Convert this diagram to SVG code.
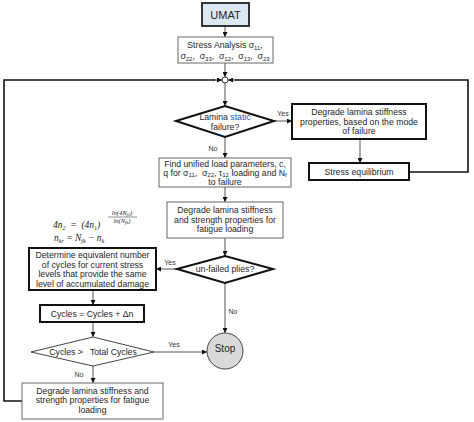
<svg xmlns="http://www.w3.org/2000/svg" width="474" height="422" viewBox="0 0 474 422">
<defs>
<marker id="ah" viewBox="0 0 10 10" refX="10" refY="5" markerWidth="5" markerHeight="5" orient="auto" markerUnits="userSpaceOnUse"><path d="M0,0 L10,5 L0,10 z" fill="#111"/></marker>
<style>
.t{font-family:"Liberation Sans",Arial,sans-serif;font-size:8.7px;fill:#1e1e28;text-anchor:middle}
.lb{font-family:"Liberation Sans",Arial,sans-serif;font-size:7px;fill:#333;text-anchor:middle}
.thick{fill:#fff;stroke:#111;stroke-width:2}
.thin{fill:#fff;stroke:#666;stroke-width:1}
.c{fill:none;stroke:#555;stroke-width:1;marker-end:url(#ah)}
.loop{fill:none;stroke:#111;stroke-width:1.6}
.m{font-family:"Liberation Serif","Times New Roman",serif;font-style:italic;font-size:9.5px;fill:#222}
.s{font-size:6px}
</style>
</defs>
<rect width="474" height="422" fill="#fff"/>

<g id="connectors">
<line class="c" x1="225" y1="26" x2="225" y2="37"/>
<line class="c" x1="225" y1="63" x2="225" y2="77"/>
<line class="c" x1="225" y1="83" x2="225" y2="106"/>
<polyline class="loop" points="22,401 4,401 4,80 215,80"/>
<line class="c" x1="214" y1="80" x2="222" y2="80" style="stroke:#111"/>
<polyline class="loop" points="409,172 468,172 468,80 235,80"/>
<line class="c" x1="236" y1="80" x2="228" y2="80" style="stroke:#111"/>
<circle cx="225" cy="80" r="3" fill="#fff" stroke="#333" stroke-width="1"/>
<line class="c" x1="274" y1="121" x2="292" y2="121"/>
<text class="lb" x="283" y="116">Yes</text>
<line class="c" x1="360" y1="139" x2="360" y2="163"/>
<line class="c" x1="225" y1="137" x2="225" y2="158"/>
<text class="lb" x="213" y="151">No</text>
<line class="c" x1="225" y1="187" x2="225" y2="202"/>
<line class="c" x1="225" y1="238" x2="225" y2="256"/>
<line class="c" x1="177" y1="269" x2="156" y2="269"/>
<text class="lb" x="170" y="265">Yes</text>
<line class="c" x1="225" y1="283" x2="225" y2="333"/>
<text class="lb" x="233" y="314">No</text>
<line class="c" x1="93" y1="290" x2="93" y2="305"/>
<line class="c" x1="93" y1="322" x2="93" y2="337"/>
<line class="c" x1="154" y1="352" x2="207" y2="352"/>
<text class="lb" x="174" y="347">Yes</text>
<line class="c" x1="93" y1="366" x2="93" y2="383"/>
<text class="lb" x="79" y="377">No</text>
</g>

<g id="umat">
<rect x="202" y="3" width="47" height="23" fill="#dbe8f1" stroke="#222" stroke-width="1.8"/>
<text class="t" x="225.5" y="19" style="font-size:11px">UMAT</text>
</g>

<g id="stress-analysis">
<rect class="thin" x="178" y="37" width="95" height="26"/>
<text class="t" x="225" y="48">Stress Analysis σ<tspan class="s" dy="1.5">11</tspan><tspan dy="-1.5">,</tspan></text>
<text class="t" x="225" y="59">σ<tspan class="s" dy="1.5">22</tspan><tspan dy="-1.5">,&#160; σ</tspan><tspan class="s" dy="1.5">33</tspan><tspan dy="-1.5">,&#160; σ</tspan><tspan class="s" dy="1.5">12</tspan><tspan dy="-1.5">,&#160; σ</tspan><tspan class="s" dy="1.5">13</tspan><tspan dy="-1.5">,&#160; σ</tspan><tspan class="s" dy="1.5">23</tspan></text>
</g>

<g id="lamina-static">
<polygon class="thick" points="176,121 225,106 274,121 225,137"/>
<text class="t" x="225" y="120">Lamina <tspan fill="#2d4fc4">static</tspan></text>
<text class="t" x="225" y="130">failure?</text>
</g>

<g id="degrade-static">
<rect class="thick" x="292" y="104" width="134" height="35"/>
<text class="t" x="359" y="115">Degrade lamina stiffness</text>
<text class="t" x="359" y="124.5">properties, based on the mode</text>
<text class="t" x="359" y="134">of failure</text>
</g>

<g id="stress-equilibrium">
<rect class="thick" x="309" y="163" width="100" height="17"/>
<text class="t" x="359" y="174.5">Stress equilibrium</text>
</g>

<g id="find-unified">
<rect class="thin" x="159" y="158" width="132" height="29"/>
<text class="t" x="225" y="166.5">Find unified load parameters, c,</text>
<text class="t" x="225" y="175.5">q for σ<tspan class="s" dy="1.5">11</tspan><tspan dy="-1.5">,&#160; σ</tspan><tspan class="s" dy="1.5">22</tspan><tspan dy="-1.5">, τ</tspan><tspan class="s" dy="1.5">12</tspan><tspan dy="-1.5"> loading and N</tspan><tspan class="s" dy="1.5">f</tspan></text>
<text class="t" x="225" y="184.5">to failure</text>
</g>

<g id="degrade-fatigue">
<rect class="thin" x="167" y="202" width="116" height="36"/>
<text class="t" x="225" y="213">Degrade lamina stiffness</text>
<text class="t" x="225" y="222.5">and strength properties for</text>
<text class="t" x="225" y="232">fatigue loading</text>
</g>

<g id="unfailed-plies">
<polygon class="thick" points="177,269 225,256 273,269 225,283"/>
<text class="t" x="225" y="272">un-failed plies?</text>
</g>

<g id="equations">
<text class="m" x="53" y="228">4<tspan>n</tspan><tspan class="s" dy="2">2</tspan><tspan dy="-2">&#160; =&#160; (4n</tspan><tspan class="s" dy="2">1</tspan><tspan dy="-2">)</tspan></text>
<text class="m" x="122" y="215" text-anchor="middle" style="font-size:6.5px">ln(4N<tspan dy="1" style="font-size:4.5px">f2</tspan><tspan dy="-1">)</tspan></text>
<line x1="108" y1="217" x2="137" y2="217" stroke="#222" stroke-width="0.5"/>
<text class="m" x="122" y="223" text-anchor="middle" style="font-size:6.5px">ln(N<tspan dy="1" style="font-size:4.5px">fk</tspan><tspan dy="-1">)</tspan></text>
<text class="m" x="54" y="241">n<tspan class="s" dy="2">kr</tspan><tspan dy="-2"> = N</tspan><tspan class="s" dy="2">fk</tspan><tspan dy="-2"> − n</tspan><tspan class="s" dy="2">k</tspan></text>
</g>

<g id="determine">
<rect class="thick" x="29" y="248" width="127" height="42"/>
<text class="t" x="92.5" y="258">Determine equivalent number</text>
<text class="t" x="92.5" y="267.5">of cycles for current stress</text>
<text class="t" x="92.5" y="277">levels that provide the same</text>
<text class="t" x="92.5" y="286.5">level of accumulated damage</text>
</g>

<g id="cycles-update">
<rect class="thick" x="40" y="305" width="104" height="17"/>
<text class="t" x="92" y="316.5">Cycles = Cycles + Δn</text>
</g>

<g id="cycles-check">
<polygon class="thin" points="31,352 93,337 154,352 93,366" style="stroke:#444"/>
<text class="t" x="93" y="355">Cycles &gt;&#160;&#160; Total Cycles</text>
</g>

<g id="stop">
<circle cx="225" cy="351" r="18" fill="#d9d9d9" stroke="#444" stroke-width="1"/>
<text class="t" x="225" y="352" style="font-size:10px">Stop</text>
</g>

<g id="degrade-final">
<rect class="thin" x="22" y="383" width="141" height="36"/>
<text class="t" x="92.5" y="393.5">Degrade lamina stiffness and</text>
<text class="t" x="92.5" y="403">strength properties for fatigue</text>
<text class="t" x="92.5" y="412.5">loading</text>
</g>
</svg>
